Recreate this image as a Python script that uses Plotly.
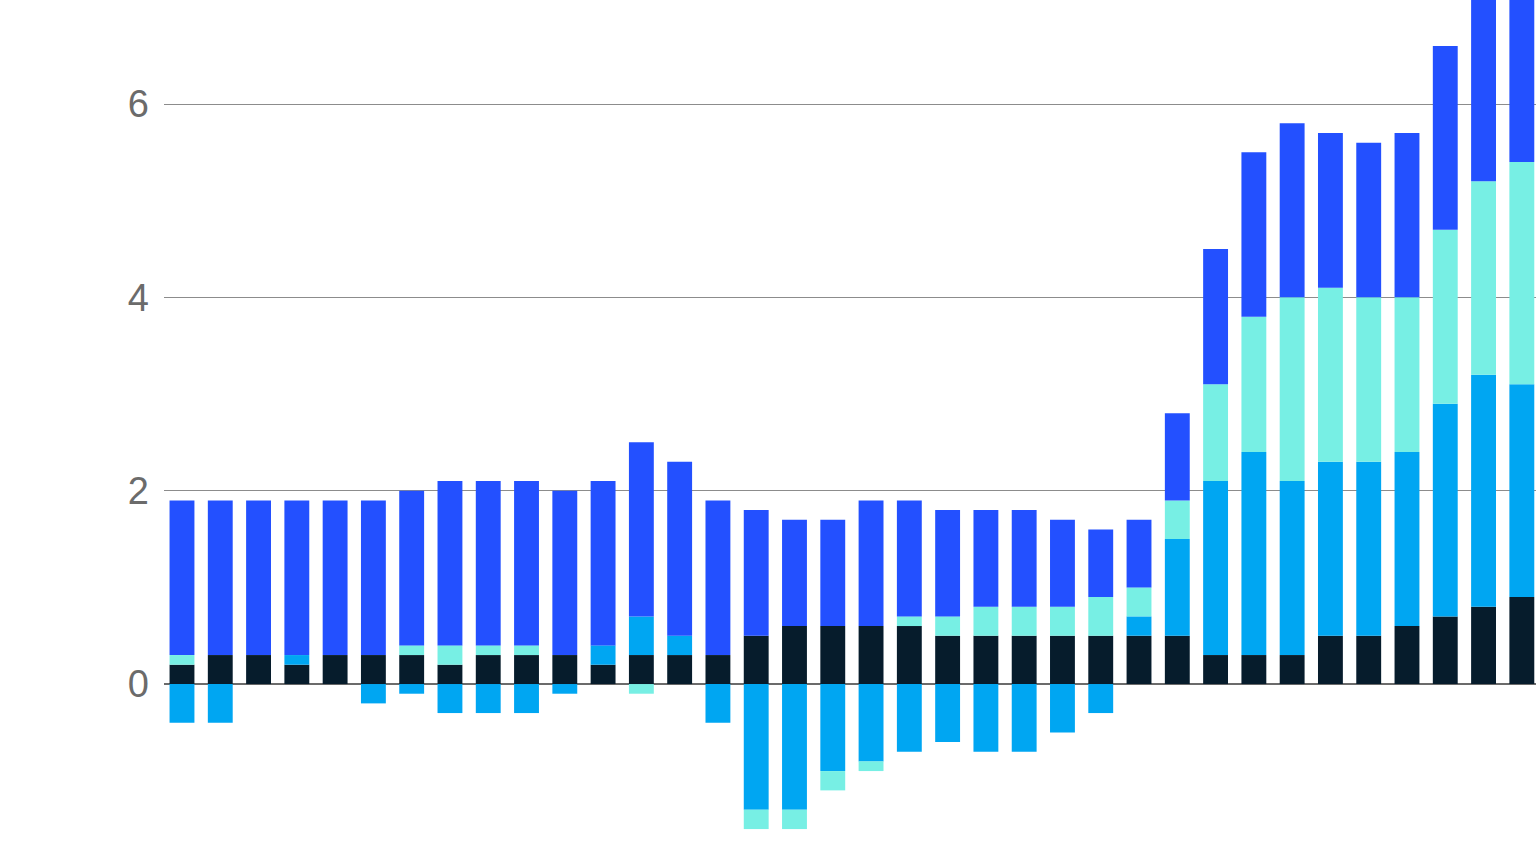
import plotly.graph_objects as go

# bar positions (36 periods, labels fall below the visible area)
periods = list(range(36))

# segment values per period, stacked with barmode="relative"
navy = [0.2, 0.3, 0.3, 0.2, 0.3, 0.3, 0.3, 0.2, 0.3, 0.3, 0.3, 0.2,
        0.3, 0.3, 0.3, 0.5, 0.6, 0.6, 0.6, 0.6, 0.5, 0.5, 0.5, 0.5,
        0.5, 0.5, 0.5, 0.3, 0.3, 0.3, 0.5, 0.5, 0.6, 0.7, 0.8, 0.9]
cyan = [-0.4, -0.4, 0.0, 0.1, 0.0, -0.2, -0.1, -0.3, -0.3, -0.3, -0.1, 0.2,
        0.4, 0.2, -0.4, -1.3, -1.3, -0.9, -0.8, -0.7, -0.6, -0.7, -0.7, -0.5,
        -0.3, 0.2, 1.0, 1.8, 2.1, 1.8, 1.8, 1.8, 1.8, 2.2, 2.4, 2.2]
aqua = [0.1, 0.0, 0.0, 0.0, 0.0, 0.0, 0.1, 0.2, 0.1, 0.1, 0.0, 0.0,
        -0.1, 0.0, 0.0, -0.2, -0.2, -0.2, -0.1, 0.1, 0.2, 0.3, 0.3, 0.3,
        0.4, 0.3, 0.4, 1.0, 1.4, 1.9, 1.8, 1.7, 1.6, 1.8, 2.0, 2.3]
royal = [1.6, 1.6, 1.6, 1.6, 1.6, 1.6, 1.6, 1.7, 1.7, 1.7, 1.7, 1.7,
         1.8, 1.8, 1.6, 1.3, 1.1, 1.1, 1.3, 1.2, 1.1, 1.0, 1.0, 0.9,
         0.7, 0.7, 0.9, 1.4, 1.7, 1.8, 1.6, 1.6, 1.7, 1.9, 2.3, 2.1]

y_ticks = [-2, 0, 2, 4, 6]
y_labels = ["\u22122", "0", "2", "4", "6"]

series = [
    ("navy", navy, "#061c2c"),
    ("cyan", cyan, "#00a6f2"),
    ("aqua", aqua, "#77efe4"),
    ("royal", royal, "#2350ff"),
]

fig = go.Figure()
for name, vals, color in series:
    fig.add_trace(go.Bar(
        x=periods,
        y=vals,
        name=name,
        marker=dict(color=color, line=dict(width=0)),
    ))

# figure is taller than the window so the bottom gets cut like the original
fig.update_layout(
    width=1536,
    height=950,
    barmode="relative",
    bargap=0.35,
    showlegend=False,
    plot_bgcolor="white",
    paper_bgcolor="white",
    margin=dict(l=164, r=0, t=0, b=0),
    font=dict(family="Liberation Sans, Arial, sans-serif", color="#6b6b6b"),
    xaxis=dict(
        range=[-0.47, 35.37],
        showticklabels=False,
        showgrid=False,
        zeroline=False,
        ticks="",
    ),
    yaxis=dict(
        range=[-2.751, 7.076],
        tickvals=y_ticks,
        ticktext=y_labels,
        tickfont=dict(size=38, color="#6b6b6b"),
        ticklabelstandoff=14,
        showgrid=True,
        gridcolor="#8c8c8c",
        gridwidth=1,
        zeroline=True,
        zerolinecolor="#6b6b6b",
        zerolinewidth=1.5,
        ticks="",
    ),
)

# page flush with the window, no scrollbars: it is just cropped
fig.write_html(
    "out.html",
    config={"displayModeBar": False},
    post_script="document.body.style.margin='0';document.body.style.overflow='hidden';",
)
